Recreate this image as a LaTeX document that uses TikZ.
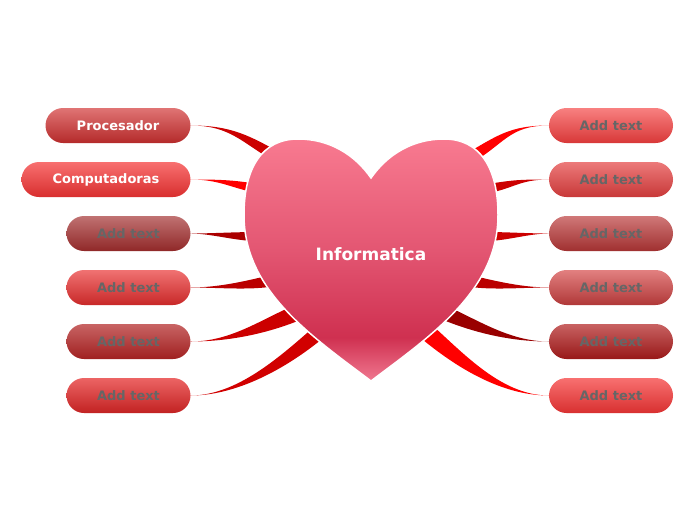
\documentclass[tikz,border=0pt]{standalone}
\usepackage{fontspec}
\newfontfamily\mapfont{DejaVu Sans}
\definecolor{addgrey}{HTML}{666666}
\definecolor{hearttop}{HTML}{F87A90}
\definecolor{heartmid}{HTML}{E35672}
\definecolor{heartdark}{HTML}{CF3050}
\definecolor{heartlow}{HTML}{F07890}
% box colours, top and bottom
\definecolor{lat}{HTML}{E07474}\definecolor{lab}{HTML}{B42A2A}
\definecolor{lbt}{HTML}{F87070}\definecolor{lbb}{HTML}{D82E2E}
\definecolor{lct}{HTML}{C07272}\definecolor{lcb}{HTML}{902828}
\definecolor{ldt}{HTML}{F07272}\definecolor{ldb}{HTML}{C82828}
\definecolor{let}{HTML}{C86464}\definecolor{leb}{HTML}{A02020}
\definecolor{lft}{HTML}{EC6464}\definecolor{lfb}{HTML}{C22222}
\definecolor{rat}{HTML}{F88080}\definecolor{rab}{HTML}{D83838}
\definecolor{rbt}{HTML}{EC7A7A}\definecolor{rbb}{HTML}{C83838}
\definecolor{rct}{HTML}{D07878}\definecolor{rcb}{HTML}{A03030}
\definecolor{rdt}{HTML}{E28080}\definecolor{rdb}{HTML}{B03838}
\definecolor{ret}{HTML}{C86262}\definecolor{reb}{HTML}{981818}
\definecolor{rft}{HTML}{F87070}\definecolor{rfb}{HTML}{D83030}
\pgfdeclareverticalshading{heartfill}{100bp}{color(0bp)=(heartlow); color(25bp)=(heartlow); color(34bp)=(heartdark); color(52bp)=(heartmid); color(75bp)=(hearttop); color(100bp)=(hearttop)}
\begin{document}
\begin{tikzpicture}[x=1pt, y=-1pt,
    topic/.style={rounded corners=17.5pt, minimum width=124pt, minimum height=35pt, inner sep=0pt, text=addgrey, font=\mapfont\bfseries\fontsize{13}{15}\selectfont},
    main/.style={topic, text=white},
    tint/.style 2 args={top color=#1, bottom color=#2}]
  \useasboundingbox (0,0) rectangle (696,520);

  \node[main, minimum width=145pt, tint={lat}{lab}] (proc) at (118,125.5) {Procesador};
  \node[main, minimum width=169pt, tint={lbt}{lbb}] (comp) at (106,179.5) {Computadoras};
  \node[topic, tint={lct}{lcb}] (l3) at (128.5,233.5) {Add text};
  \node[topic, tint={ldt}{ldb}] (l4) at (128.5,287.5) {Add text};
  \node[topic, tint={let}{leb}] (l5) at (128.5,341.5) {Add text};
  \node[topic, tint={lft}{lfb}] (l6) at (128.5,395.5) {Add text};

  \node[topic, tint={rat}{rab}] (r1) at (611,125.5) {Add text};
  \node[topic, tint={rbt}{rbb}] (r2) at (611,179.5) {Add text};
  \node[topic, tint={rct}{rcb}] (r3) at (611,233.5) {Add text};
  \node[topic, tint={rdt}{rdb}] (r4) at (611,287.5) {Add text};
  \node[topic, tint={ret}{reb}] (r5) at (611,341.5) {Add text};
  \node[topic, tint={rft}{rfb}] (r6) at (611,395.5) {Add text};

  % heart ends of the branches
  \coordinate (proc a) at (284,155); \coordinate (proc b) at (277,163);
  \coordinate (comp a) at (258,184); \coordinate (comp b) at (258,193);
  \coordinate (l3 a) at (256,232);   \coordinate (l3 b) at (256,241);
  \coordinate (l4 a) at (275,274);   \coordinate (l4 b) at (280,285);
  \coordinate (l5 a) at (295,305);   \coordinate (l5 b) at (305,318);
  \coordinate (l6 a) at (322,320);   \coordinate (l6 b) at (328,334);
  \coordinate (r1 a) at (462,156);   \coordinate (r1 b) at (470,164);
  \coordinate (r2 a) at (488,184);   \coordinate (r2 b) at (488,193);
  \coordinate (r3 a) at (486,232);   \coordinate (r3 b) at (486,241);
  \coordinate (r4 a) at (462,273);   \coordinate (r4 b) at (460,285);
  \coordinate (r5 a) at (442,304);   \coordinate (r5 b) at (436,317);
  \coordinate (r6 a) at (424,318);   \coordinate (r6 b) at (416,334);

  \fill[red!80!black] (proc.east) .. controls +(40,0) and +(-35,-20) .. (proc a) -- (proc b) .. controls +(-35,-20) and +(40,0) .. (proc.east);
  \fill[red] (comp.east) .. controls +(30,0) and +(-25,-4) .. (comp a) -- (comp b) .. controls +(-25,-4) and +(30,0) .. (comp.east);
  \fill[red!67!black] (l3.east) .. controls +(20,0) and +(-20,0) .. (l3 a) -- (l3 b) .. controls +(-20,0) and +(20,0) .. (l3.east);
  \fill[red!73!black] (l4.east) .. controls +(30,0) and +(-25,6) .. (l4 a) -- (l4 b) .. controls +(-25,6) and +(30,0) .. (l4.east);
  \fill[red!80!black] (l5.east) .. controls +(40,0) and +(-35,15) .. (l5 a) -- (l5 b) .. controls +(-35,15) and +(40,0) .. (l5.east);
  \fill[red!82!black] (l6.east) .. controls +(50,0) and +(-35,30) .. (l6 a) -- (l6 b) .. controls +(-35,30) and +(50,0) .. (l6.east);

  \fill[red] (r1.west) .. controls +(-40,0) and +(35,-20) .. (r1 a) -- (r1 b) .. controls +(35,-20) and +(-40,0) .. (r1.west);
  \fill[red!80!black] (r2.west) .. controls +(-30,0) and +(25,-4) .. (r2 a) -- (r2 b) .. controls +(25,-4) and +(-30,0) .. (r2.west);
  \fill[red!80!black] (r3.west) .. controls +(-20,0) and +(20,0) .. (r3 a) -- (r3 b) .. controls +(20,0) and +(-20,0) .. (r3.west);
  \fill[red!73!black] (r4.west) .. controls +(-30,0) and +(25,6) .. (r4 a) -- (r4 b) .. controls +(25,6) and +(-30,0) .. (r4.west);
  \fill[red!60!black] (r5.west) .. controls +(-40,0) and +(35,15) .. (r5 a) -- (r5 b) .. controls +(35,15) and +(-40,0) .. (r5.west);
  \fill[red] (r6.west) .. controls +(-50,0) and +(35,30) .. (r6 a) -- (r6 b) .. controls +(35,30) and +(-50,0) .. (r6.west);

  % heart
  \shadedraw[shading=heartfill, draw=white, line width=1.5pt]
    (371,381) .. controls (310,335) and (244,290) .. (244,215)
    .. controls (244,168) and (262,139) .. (298,139)
    .. controls (330,139) and (355,155) .. (371,178)
    .. controls (387,155) and (412,139) .. (444,139)
    .. controls (480,139) and (498,168) .. (498,215)
    .. controls (498,290) and (432,335) .. (371,381) -- cycle;
  \node[text=white, font=\mapfont\bfseries\fontsize{17}{20}\selectfont] (info) at (371,254) {Informatica};
\end{tikzpicture}
\end{document}
